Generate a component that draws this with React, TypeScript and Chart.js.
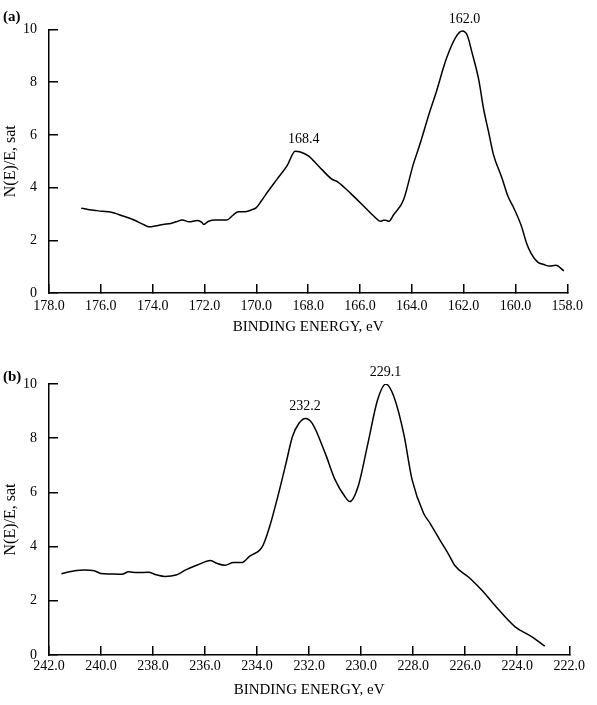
import React, { useEffect, useRef } from 'react';
import { Chart, registerables } from 'chart.js';

Chart.register(...registerables);

// ---- Panel (a) data: binding energy (eV) vs N(E)/E ----
const energyA = [
  176.76, 176.5, 176.26, 175.95, 175.63, 175.12, 174.74, 174.36, 174.14, 173.9,
  173.6, 173.3, 173.1, 172.85, 172.6, 172.28, 172.1, 172.03, 171.84, 171.59,
  171.14, 170.9, 170.7, 170.45, 170.2, 170.0, 169.8, 169.56, 169.19, 168.81,
  168.5, 168.3, 167.99, 167.61, 167.1, 166.85, 166.35, 165.84, 165.46, 165.2,
  165.1, 165.01, 164.89, 164.7, 164.32, 163.94, 163.69, 163.31, 163.06, 162.68,
  162.3, 162.05, 161.86, 161.67, 161.42, 161.23, 161.04, 160.85, 160.53, 160.28,
  160.09, 159.77, 159.58, 159.39, 159.14, 158.9, 158.7, 158.44, 158.13,
];
const intensityA = [
  3.22, 3.17, 3.14, 3.1, 3.07, 2.91, 2.78, 2.6, 2.51, 2.54,
  2.6, 2.64, 2.7, 2.77, 2.7, 2.75, 2.68, 2.6, 2.72, 2.77,
  2.77, 2.95, 3.08, 3.08, 3.15, 3.24, 3.5, 3.84, 4.33, 4.83,
  5.38, 5.35, 5.2, 4.83, 4.33, 4.21, 3.77, 3.28, 2.91, 2.72,
  2.76, 2.76, 2.72, 2.97, 3.53, 4.89, 5.63, 6.87, 7.61, 8.85,
  9.71, 9.94, 9.78, 9.1, 8.11, 6.99, 6.13, 5.26, 4.39, 3.65,
  3.28, 2.54, 1.92, 1.49, 1.17, 1.08, 1.02, 1.05, 0.84,
];
const peakLabelsA = ['168.4', '162.0'];
const peakEnergyA = [168.4, 162.0];
const peakHeightA = [5.38, 9.94];

// ---- Panel (b) data ----
const energyB = [
  241.52, 241.3, 241.02, 240.64, 240.26, 240.01, 239.63, 239.19, 238.94, 238.63,
  238.18, 237.87, 237.55, 237.12, 236.74, 236.3, 235.79, 235.54, 235.23, 234.91,
  234.6, 234.28, 233.9, 233.77, 233.52, 233.14, 232.89, 232.64, 232.39,
  232.14, 231.88, 231.38, 231.0, 230.62, 230.44, 230.12, 229.74, 229.37, 229.05,
  228.74, 228.36, 228.04, 227.6, 227.35, 226.97, 226.59, 226.4, 225.84, 225.34,
  224.83, 224.08, 223.45, 222.94,
];
const intensityB = [
  3.0, 3.05, 3.11, 3.14, 3.11, 3.01, 2.99, 2.98, 3.07, 3.04,
  3.05, 2.96, 2.9, 2.95, 3.14, 3.32, 3.49, 3.38, 3.31, 3.41,
  3.41, 3.65, 3.87, 4.05, 4.73, 6.09, 7.07, 8.06, 8.55,
  8.73, 8.55, 7.44, 6.46, 5.84, 5.66, 6.21, 7.81, 9.41, 10.0,
  9.53, 8.15, 6.46, 5.23, 4.86, 4.24, 3.63, 3.3, 2.85, 2.37,
  1.8, 1.04, 0.68, 0.33,
];
const peakLabelsB = ['232.2', '229.1'];
const peakEnergyB = [232.2, 229.1];
const peakHeightB = [8.73, 10.0];

const yTickStep = 2;
const xTickStep = 2;
const FONT = '"Liberation Serif", "Times New Roman", serif';

type PanelCfg = {
  tag: string;
  energy: number[];
  intensity: number[];
  xMin: number;
  xMax: number;
  peakLabels: string[];
  peakEnergy: number[];
  peakHeight: number[];
  peakDx: number[];
  top: number;
  height: number;
  padTop: number;
  padRight: number;
  xAxisH: number;
  xTickPad: number;
  xTitlePadBottom: number;
  tagY: number;
};

function Panel({ cfg }: { cfg: PanelCfg }) {
  const ref = useRef<HTMLCanvasElement>(null);
  useEffect(() => {
    const canvas = ref.current;
    if (!canvas) return;
    const annot = {
      id: 'annot',
      afterDraw(chart: any) {
        const c = chart.ctx;
        const xs = chart.scales.x;
        const ys = chart.scales.y;
        c.save();
        c.fillStyle = '#000';
        c.font = `14px ${FONT}`;
        c.textAlign = 'center';
        c.textBaseline = 'middle';
        cfg.peakLabels.forEach((t, i) => {
          c.fillText(
            t,
            xs.getPixelForValue(cfg.peakEnergy[i]) + cfg.peakDx[i],
            ys.getPixelForValue(cfg.peakHeight[i]) - 12,
          );
        });
        c.font = `bold 15px ${FONT}`;
        c.textAlign = 'left';
        c.textBaseline = 'alphabetic';
        c.fillText(cfg.tag, 3, cfg.tagY);
        c.restore();
      },
    };
    const chart = new Chart(canvas, {
      type: 'line',
      data: {
        datasets: [
          {
            data: cfg.energy.map((e, i) => ({ x: e, y: cfg.intensity[i] })),
            borderColor: '#000',
            borderWidth: 1.5,
            pointRadius: 0,
            fill: false,
            cubicInterpolationMode: 'monotone',
          },
        ],
      },
      options: {
        animation: false,
        responsive: false,
        layout: { padding: { top: cfg.padTop, right: cfg.padRight, left: 0, bottom: 0 } },
        plugins: { legend: { display: false }, tooltip: { enabled: false } },
        scales: {
          x: {
            type: 'linear',
            position: 'bottom',
            min: cfg.xMin,
            max: cfg.xMax,
            reverse: true,
            afterFit: (s: any) => {
              s.height = cfg.xAxisH;
            },
            ticks: {
              stepSize: xTickStep,
              autoSkip: false,
              maxRotation: 0,
              padding: cfg.xTickPad,
              color: '#000',
              font: { family: FONT, size: 14 },
              callback: (v: any) => Number(v).toFixed(1),
            },
            grid: {
              drawOnChartArea: false,
              drawTicks: true,
              tickLength: -9,
              color: '#000',
              lineWidth: 1.5,
            },
            border: { display: true, color: '#000', width: 1.5 },
            title: {
              display: true,
              text: 'BINDING ENERGY, eV',
              color: '#000',
              font: { family: FONT, size: 15 },
              padding: { top: 0, bottom: cfg.xTitlePadBottom },
            },
          },
          y: {
            type: 'linear',
            min: 0,
            max: 10,
            afterFit: (s: any) => {
              s.width = 49;
            },
            ticks: {
              stepSize: yTickStep,
              padding: 21,
              color: '#000',
              font: { family: FONT, size: 14 },
            },
            grid: {
              drawOnChartArea: false,
              drawTicks: true,
              tickLength: -9,
              color: '#000',
              lineWidth: 1.5,
            },
            border: { display: true, color: '#000', width: 1.5 },
            title: {
              display: true,
              text: 'N(E)/E, sat',
              color: '#000',
              font: { family: FONT, size: 16 },
              padding: { top: 1, bottom: 0 },
            },
          },
        },
      } as any,
      plugins: [annot],
    });
    return () => chart.destroy();
  }, [cfg]);
  return (
    <canvas
      ref={ref}
      width={597}
      height={cfg.height}
      style={{ position: 'absolute', left: 0, top: cfg.top, width: 597, height: cfg.height }}
    />
  );
}

const panelA: PanelCfg = {
  tag: '(a)',
  energy: energyA,
  intensity: intensityA,
  xMin: 158,
  xMax: 178,
  peakLabels: peakLabelsA,
  peakEnergy: peakEnergyA,
  peakHeight: peakHeightA,
  peakDx: [6, 1],
  top: 0,
  height: 350,
  padTop: 24,
  padRight: 20,
  xAxisH: 57,
  xTickPad: 14,
  xTitlePadBottom: 14,
  tagY: 21,
};

const panelB: PanelCfg = {
  tag: '(b)',
  energy: energyB,
  intensity: intensityB,
  xMin: 222,
  xMax: 242,
  peakLabels: peakLabelsB,
  peakEnergy: peakEnergyB,
  peakHeight: peakHeightB,
  peakDx: [1, 1],
  top: 350,
  height: 355,
  padTop: 34,
  padRight: 19,
  xAxisH: 50,
  xTickPad: 12,
  xTitlePadBottom: 6,
  tagY: 31,
};

export default function App() {
  return (
    <div
      style={{
        position: 'fixed',
        left: 0,
        top: 0,
        width: 597,
        height: 705,
        background: '#fff',
        overflow: 'hidden',
      }}
    >
      <Panel cfg={panelA} />
      <Panel cfg={panelB} />
    </div>
  );
}
